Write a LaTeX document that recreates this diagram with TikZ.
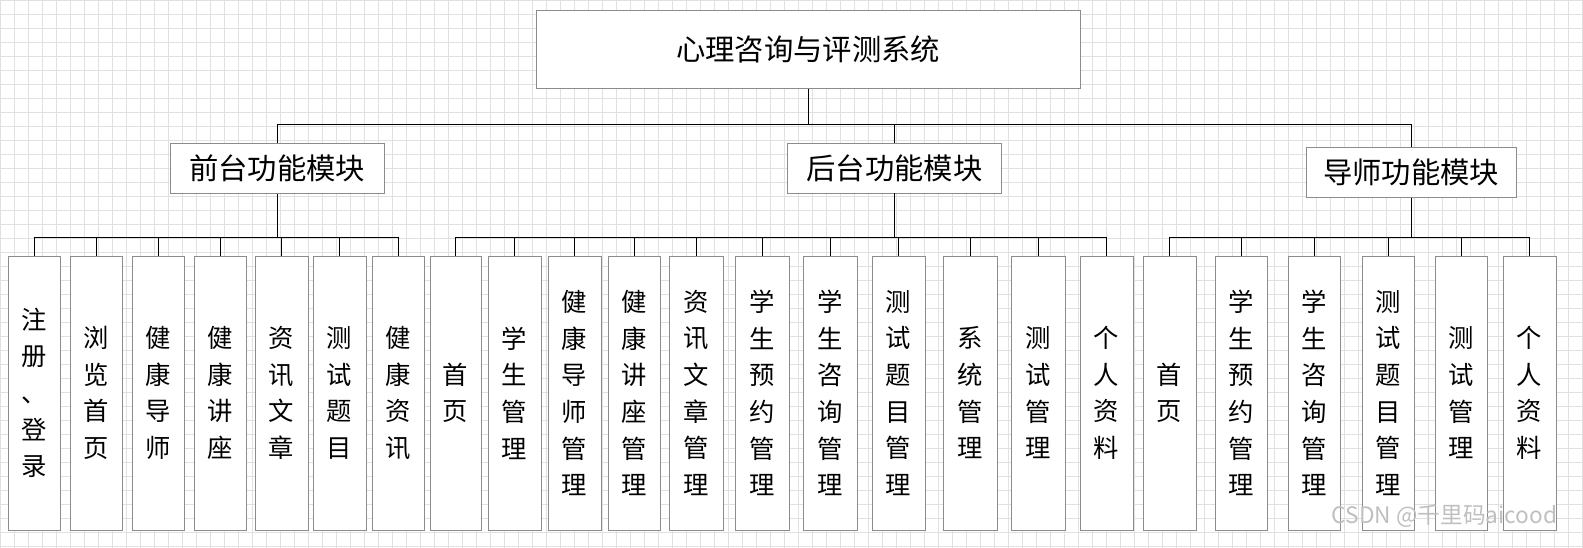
\documentclass[tikz,border=0pt]{standalone}
\usepackage{fontspec}
\setmainfont{Noto Sans CJK SC}
\begin{document}
\begin{tikzpicture}[x=0.75pt,y=-0.75pt,
  box/.style={draw=black!45,line width=0.6pt,inner sep=0pt,align=center},
  leaf/.style={box,minimum height=205.5pt,font=\fontsize{19}{27.5}\selectfont},
  mod/.style={box,font=\fontsize{22}{26}\selectfont},
  con/.style={draw=black,line width=0.7pt}]
\fill[white] (0,0) rectangle (1583,548);
\begin{scope}
\clip (0,0) rectangle (1583,548);
\draw[black!12,line width=0.4pt,step=10.5pt] (0,0) grid (1583,548);
\end{scope}
\node[box,minimum width=408pt,minimum height=59pt,font=\fontsize{22}{26}\selectfont,fill=white] (top) at (808,49.5) {心理咨询与评测系统};
\node[mod,minimum width=160.5pt,minimum height=38pt,fill=white] (m1) at (277,168.5) {前台功能模块};
\node[mod,minimum width=160pt,minimum height=37.5pt,fill=white] (m2) at (894.5,168) {后台功能模块};
\node[mod,minimum width=157.5pt,minimum height=38pt,fill=white] (m3) at (1411,172.5) {导师功能模块};
\newcommand\leafnode[4]{\node[leaf,minimum width={(#3-#2)*0.75pt},fill=white] (#1) at ({(#2+#3)/2},393) {#4};}
% front
\leafnode{a1}{8}{60}{注\\册\\、\\登\\录}
\leafnode{a2}{70}{122}{浏\\览\\首\\页}
\leafnode{a3}{132}{184}{健\\康\\导\\师}
\leafnode{a4}{194}{246}{健\\康\\讲\\座}
\leafnode{a5}{255}{308}{资\\讯\\文\\章}
\leafnode{a6}{313}{366}{测\\试\\题\\目}
\leafnode{a7}{372}{424}{健\\康\\资\\讯}
% back
\leafnode{b1}{430}{481}{首\\页}
\leafnode{b2}{488}{541}{学\\生\\管\\理}
\leafnode{b3}{548}{601}{健\\康\\导\\师\\管\\理}
\leafnode{b4}{608}{660}{健\\康\\讲\\座\\管\\理}
\leafnode{b5}{669}{723}{资\\讯\\文\\章\\管\\理}
\leafnode{b6}{735}{789}{学\\生\\预\\约\\管\\理}
\leafnode{b7}{803}{857}{学\\生\\咨\\询\\管\\理}
\leafnode{b8}{872}{925}{测\\试\\题\\目\\管\\理}
\leafnode{b9}{943}{997}{系\\统\\管\\理}
\leafnode{b10}{1011}{1065}{测\\试\\管\\理}
\leafnode{b11}{1080}{1133}{个\\人\\资\\料}
% mentor
\leafnode{c1}{1143}{1196}{首\\页}
\leafnode{c2}{1215}{1267}{学\\生\\预\\约\\管\\理}
\leafnode{c3}{1288}{1340}{学\\生\\咨\\询\\管\\理}
\leafnode{c4}{1362}{1414}{测\\试\\题\\目\\管\\理}
\leafnode{c5}{1435}{1487}{测\\试\\管\\理}
\leafnode{c6}{1503}{1556}{个\\人\\资\\料}
% connectors
\coordinate (t) at (0,124);
\coordinate (bus) at (0,237);
\draw[con] (top.south) -- (top.south |- t);
\draw[con] (m1.north |- t) -- (m3.north |- t);
\foreach \m in {m1,m2,m3} \draw[con] (\m.north) -- (\m.north |- t);
\foreach \m in {m1,m2,m3} \draw[con] (\m.south) -- (\m.south |- bus);
\draw[con] (a1.north |- bus) -- (a7.north |- bus);
\draw[con] (b1.north |- bus) -- (b11.north |- bus);
\draw[con] (c1.north |- bus) -- (c6.north |- bus);
\foreach \l in {a1,a2,a3,a4,a5,a6,a7,b1,b2,b3,b4,b5,b6,b7,b8,b9,b10,b11,c1,c2,c3,c4,c5,c6}
  \draw[con] (\l.north) -- (\l.north |- bus);
\node[text=black!25,font=\fontsize{17}{20}\selectfont,anchor=east] (wm) at (1562,516) {CSDN @千里码aicood};
\useasboundingbox (0,0) rectangle (1583,548);
\end{tikzpicture}
\end{document}
